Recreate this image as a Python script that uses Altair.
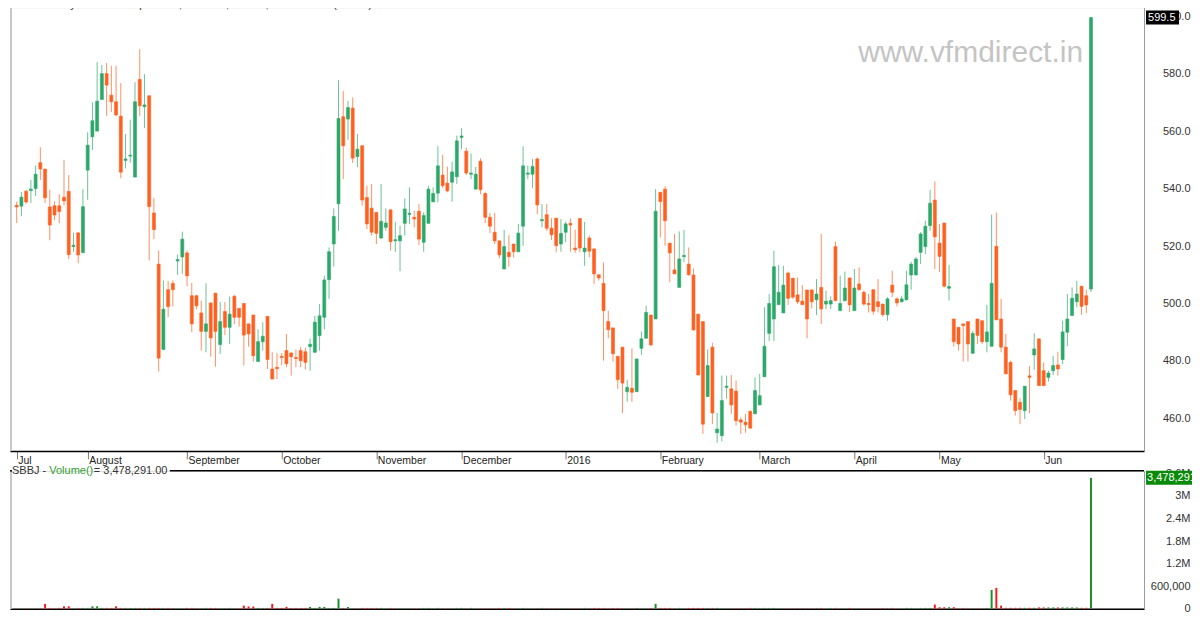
import altair as alt
import pandas as pd

# ---------------- data ----------------
opens = [534.2, 533.9, 539.1, 539.3, 540.0, 549.0, 546.8, 533.6, 534.0, 534.0,
         537.0, 539.0, 519.8, 524.6, 517.7, 546.4, 558.0, 560.0, 571.0, 580.0,
         572.5, 570.2, 565.2, 549.8, 551.3, 544.0, 578.0, 568.5, 572.3, 531.5,
         513.7, 484.0, 504.8, 507.0, 514.8, 516.2, 517.6, 502.7, 502.7, 496.7,
         490.3, 500.2, 503.6, 485.7, 497.2, 491.7, 502.5, 498.3, 500.0, 492.9,
         496.0, 479.8, 486.7, 495.5, 477.2, 477.8, 481.6, 483.6, 482.8, 481.2,
         483.6, 483.2, 485.0, 483.0, 488.8, 495.2, 508.3, 520.7, 534.7, 565.0,
         564.2, 568.0, 551.1, 554.9, 536.9, 533.2, 531.7, 522.8, 526.5, 532.6,
         521.8, 521.8, 527.9, 531.0, 530.0, 532.1, 521.3, 527.9, 535.4, 538.4,
         544.7, 541.9, 542.2, 544.1, 557.8, 553.0, 545.0, 539.8, 549.5, 538.3,
         530.0, 524.8, 521.8, 512.0, 517.8, 520.7, 518.0, 526.9, 545.0, 545.0,
         550.3, 528.8, 530.9, 526.2, 529.7, 520.7, 524.8, 527.9, 519.3, 529.6,
         518.0, 522.8, 519.0, 510.0, 507.0, 493.7, 491.5, 481.6, 484.8, 469.3,
         470.5, 469.3, 484.4, 487.9, 496.0, 494.6, 538.7, 539.8, 521.0, 511.7,
         505.6, 516.3, 513.7, 509.9, 496.3, 493.7, 467.6, 484.8, 455.0, 454.0,
         470.8, 470.3, 469.5, 459.5, 458.7, 462.5, 461.6, 464.7, 474.5, 489.6,
         494.6, 499.6, 496.7, 510.6, 508.8, 503.0, 500.8, 504.7, 504.7, 501.3,
         505.6, 499.8, 499.8, 519.8, 497.5, 501.0, 508.9, 497.5, 506.8, 503.9,
         500.0, 504.8, 500.6, 499.8, 496.1, 506.4, 501.6, 500.6, 501.3, 509.9,
         509.9, 517.8, 519.8, 527.1, 536.0, 521.0, 528.0, 505.3, 494.6, 491.7,
         492.9, 493.7, 482.7, 494.6, 494.0, 486.7, 485.1, 519.9, 494.6, 484.8,
         479.5, 469.7, 465.6, 462.7, 474.8, 482.1, 487.7, 476.6, 474.3, 476.6,
         478.6, 480.5, 490.0, 495.8, 500.6, 506.0, 502.7, 505.0]
highs = [535.5, 538.8, 539.5, 543.0, 548.0, 554.4, 546.8, 539.6, 535.5, 538.0,
         550.0, 544.7, 524.6, 524.6, 539.8, 559.6, 570.0, 584.0, 583.0, 583.7,
         582.7, 582.7, 576.7, 559.0, 564.0, 577.0, 588.5, 579.8, 572.3, 536.7,
         518.4, 508.0, 507.9, 508.0, 517.0, 525.0, 518.4, 507.1, 503.0, 501.0,
         507.0, 500.2, 503.6, 500.5, 500.5, 502.4, 503.0, 498.3, 500.0, 492.9,
         496.0, 491.0, 493.5, 495.5, 483.0, 482.8, 482.8, 489.4, 482.8, 484.0,
         484.9, 484.6, 487.8, 495.7, 499.8, 509.7, 519.5, 533.1, 577.7, 574.0,
         570.5, 571.7, 559.0, 554.9, 541.0, 541.6, 531.7, 541.6, 533.1, 532.6,
         528.5, 527.0, 536.6, 540.4, 532.3, 534.6, 531.7, 541.0, 540.4, 554.7,
         551.7, 547.7, 549.3, 558.4, 561.0, 554.3, 552.2, 547.6, 550.5, 538.7,
         531.5, 531.5, 521.8, 525.6, 523.8, 520.7, 527.7, 554.7, 548.0, 550.3,
         550.9, 534.6, 534.6, 529.7, 529.7, 529.4, 528.4, 529.6, 525.7, 529.6,
         528.4, 523.6, 519.0, 510.0, 514.3, 497.5, 491.5, 481.6, 484.8, 473.4,
         484.4, 480.7, 490.3, 499.2, 496.0, 539.8, 538.7, 540.8, 521.0, 524.2,
         525.1, 525.6, 519.5, 512.2, 496.3, 493.7, 484.0, 486.3, 461.9, 474.9,
         474.9, 475.1, 473.2, 460.4, 461.6, 462.5, 474.3, 475.5, 498.7, 503.3,
         518.4, 513.4, 513.1, 511.1, 508.8, 509.1, 506.4, 504.7, 505.0, 508.5,
         524.2, 504.5, 502.5, 521.5, 509.7, 511.1, 508.9, 512.0, 512.6, 504.5,
         503.3, 504.8, 508.5, 499.8, 502.2, 511.4, 502.2, 502.7, 511.4, 514.5,
         516.1, 524.8, 528.8, 539.6, 542.5, 527.7, 528.0, 513.4, 494.6, 491.7,
         492.9, 493.7, 490.5, 494.6, 494.0, 499.5, 530.9, 531.7, 501.6, 489.4,
         480.1, 469.7, 467.0, 471.2, 478.3, 489.6, 487.7, 479.5, 476.6, 481.8,
         483.2, 494.0, 503.3, 505.6, 507.9, 506.0, 504.8, 599.5]
lows = [528.0, 530.4, 534.7, 535.0, 537.4, 543.0, 535.0, 522.0, 529.0, 528.0,
        534.0, 515.5, 518.0, 514.0, 517.7, 536.1, 553.4, 560.0, 571.0, 565.3,
        566.6, 565.2, 543.6, 547.0, 549.0, 544.0, 565.3, 561.0, 515.0, 522.4,
        476.3, 484.0, 495.3, 499.0, 510.0, 510.3, 506.0, 490.0, 498.0, 483.6,
        483.0, 481.5, 478.0, 482.4, 489.0, 485.9, 492.8, 492.0, 478.4, 485.0,
        479.8, 479.8, 483.6, 477.2, 473.7, 473.7, 478.4, 477.8, 474.9, 477.8,
        477.8, 477.0, 476.6, 483.0, 483.6, 491.0, 501.6, 512.9, 525.3, 543.3,
        557.0, 548.9, 547.4, 534.0, 525.9, 523.6, 520.7, 522.4, 525.3, 518.4,
        518.0, 511.2, 523.6, 527.7, 526.5, 520.3, 518.0, 527.9, 535.2, 535.2,
        540.1, 538.7, 535.4, 541.6, 553.7, 544.7, 543.3, 539.8, 538.1, 528.0,
        524.5, 520.7, 515.7, 512.0, 512.8, 516.0, 518.0, 520.1, 543.3, 540.1,
        531.1, 526.5, 525.3, 522.1, 517.8, 518.0, 521.3, 518.0, 517.6, 517.8,
        513.1, 516.1, 506.8, 508.0, 480.1, 487.9, 479.8, 470.3, 461.9, 465.8,
        465.8, 469.3, 482.1, 487.9, 485.1, 494.6, 523.0, 520.1, 507.4, 510.3,
        505.6, 514.5, 509.7, 490.5, 475.1, 454.6, 467.6, 458.0, 451.5, 452.0,
        466.8, 461.6, 457.5, 454.6, 455.0, 456.6, 461.6, 464.7, 474.5, 486.9,
        486.9, 499.6, 496.7, 499.5, 501.6, 499.8, 499.5, 487.9, 498.3, 496.0,
        492.9, 498.0, 498.0, 500.8, 497.5, 500.6, 497.0, 497.5, 504.5, 499.2,
        496.9, 496.1, 496.9, 495.4, 494.0, 502.2, 499.0, 500.4, 501.0, 504.8,
        509.9, 513.7, 517.2, 525.3, 512.0, 510.9, 505.6, 501.0, 485.0, 483.6,
        479.8, 479.8, 482.4, 485.9, 485.9, 483.0, 485.1, 494.3, 483.0, 475.5,
        466.2, 461.0, 458.0, 459.8, 461.8, 476.9, 471.4, 471.4, 472.8, 475.1,
        474.9, 478.9, 485.1, 495.8, 498.7, 496.1, 496.7, 504.0]
closes = [533.6, 537.0, 535.3, 539.8, 545.0, 546.8, 536.8, 527.3, 530.8, 532.0,
          535.7, 517.0, 520.3, 516.9, 533.7, 555.1, 563.6, 570.4, 580.0, 576.0,
          570.2, 565.6, 545.7, 550.3, 551.6, 570.2, 568.8, 569.1, 533.7, 525.7,
          481.0, 498.0, 498.9, 504.8, 515.3, 522.4, 509.6, 492.9, 499.2, 490.3,
          492.9, 488.0, 490.3, 493.7, 491.7, 496.3, 495.2, 495.2, 489.0, 489.4,
          481.8, 486.7, 488.6, 480.5, 473.7, 477.3, 481.2, 479.0, 481.4, 480.8,
          480.1, 479.5, 485.8, 493.5, 495.7, 508.2, 518.0, 530.3, 564.4, 554.9,
          568.2, 550.6, 553.7, 536.0, 527.7, 524.8, 524.4, 528.6, 528.0, 521.5,
          522.2, 523.6, 532.9, 531.4, 529.4, 522.4, 530.6, 539.8, 538.3, 547.9,
          541.0, 539.2, 545.8, 556.6, 558.3, 545.4, 545.4, 545.0, 539.6, 530.0,
          526.9, 521.8, 516.9, 519.8, 516.3, 518.0, 524.5, 547.9, 545.4, 547.7,
          534.3, 529.2, 526.2, 523.9, 520.1, 524.4, 527.7, 527.3, 518.7, 519.3,
          519.3, 518.2, 510.3, 508.9, 497.5, 490.9, 482.5, 473.5, 472.3, 470.8,
          469.1, 480.7, 487.7, 496.9, 485.6, 532.1, 535.5, 528.8, 517.6, 510.3,
          515.5, 516.7, 510.0, 490.8, 475.1, 458.0, 478.4, 461.9, 456.3, 466.2,
          471.2, 464.7, 459.2, 458.7, 457.8, 456.6, 469.7, 467.9, 485.1, 500.0,
          512.8, 503.9, 506.4, 501.8, 502.2, 500.6, 499.6, 494.6, 500.6, 503.3,
          498.1, 500.8, 501.0, 501.0, 500.0, 505.4, 499.5, 505.4, 504.8, 499.8,
          499.6, 497.3, 498.9, 496.1, 501.6, 503.9, 500.2, 501.6, 506.5, 513.7,
          515.5, 524.2, 526.9, 534.9, 523.2, 516.4, 506.0, 505.9, 486.7, 485.9,
          492.3, 485.9, 489.6, 488.9, 486.7, 490.1, 507.0, 494.3, 484.8, 475.5,
          468.2, 462.7, 463.1, 471.2, 474.3, 484.2, 471.4, 471.4, 475.8, 478.4,
          477.2, 490.1, 494.6, 501.8, 503.3, 499.0, 499.5, 599.5]
volumes = [8000, 8000, 8000, 8000, 8000, 8000, 130000, 22000, 8000, 22000,
           65000, 65000, 8000, 22000, 22000, 22000, 65000, 65000, 22000, 22000,
           22000, 65000, 22000, 22000, 22000, 22000, 22000, 22000, 22000, 22000,
           22000, 22000, 22000, 8000, 8000, 8000, 22000, 22000, 8000, 8000,
           22000, 22000, 22000, 8000, 8000, 22000, 8000, 8000, 83000, 60000,
           60000, 22000, 22000, 22000, 130000, 22000, 22000, 50000, 22000, 22000,
           22000, 22000, 50000, 22000, 50000, 50000, 22000, 22000, 268000, 22000,
           45000, 8000, 8000, 22000, 22000, 22000, 22000, 22000, 8000, 22000,
           8000, 8000, 8000, 8000, 8000, 8000, 22000, 22000, 8000, 22000,
           8000, 8000, 8000, 22000, 22000, 8000, 22000, 8000, 8000, 8000,
           8000, 8000, 22000, 22000, 22000, 8000, 8000, 22000, 8000, 8000,
           8000, 22000, 8000, 8000, 8000, 8000, 8000, 8000, 8000, 8000,
           22000, 8000, 22000, 22000, 22000, 8000, 22000, 22000, 8000, 8000,
           8000, 22000, 8000, 8000, 22000, 130000, 22000, 22000, 22000, 8000,
           22000, 8000, 22000, 22000, 22000, 22000, 22000, 22000, 22000, 8000,
           8000, 8000, 8000, 8000, 8000, 22000, 22000, 8000, 22000, 22000,
           22000, 8000, 8000, 8000, 8000, 8000, 8000, 8000, 8000, 8000,
           22000, 8000, 22000, 22000, 8000, 8000, 22000, 8000, 8000, 8000,
           8000, 8000, 8000, 22000, 8000, 22000, 8000, 8000, 22000, 22000,
           8000, 22000, 22000, 22000, 111000, 40000, 40000, 40000, 40000, 8000,
           22000, 8000, 8000, 8000, 8000, 22000, 500000, 555000, 83000, 25000,
           25000, 25000, 25000, 25000, 25000, 25000, 35000, 35000, 35000, 35000,
           35000, 35000, 35000, 35000, 35000, 25000, 25000, 3478291]

month_ticks = [1, 16, 37, 57, 77, 95, 117, 137, 158, 178, 196, 218]
month_labels = ["Jul", "August", "September", "October", "November", "December",
                "2016", "February", "March", "April", "May", "Jun"]
price_ticks = [460, 480, 500, 520, 540, 560, 580, 600]
volume_ticks = [0, 600000, 1200000, 1800000, 2400000, 3000000, 3600000]

header_text = "SBBJ - Daily 6/13/2016 Open 505, Hi 599.5, Lo 504, Close 599.5 (20.0%)"
watermark = "www.vfmdirect.in"

# ---------------- styling ----------------
W, H1, H2 = 1135, 444, 138
FONT = "Liberation Sans"
GREEN = "#2ca86a"
ORANGE = "#ff6020"
VGREEN = "#1f8f2a"
VRED = "#f31e1e"

df = pd.DataFrame({"i": list(range(1, len(opens) + 1)), "open": opens, "high": highs,
                   "low": lows, "close": closes, "volume": volumes})
one = pd.DataFrame({"k": [0]})
last = df.tail(1)

xs = alt.Scale(domain=[0.644, 238.15], nice=False, zero=False)
ys = alt.Scale(domain=[448.7, 603.1], nice=False, zero=False)
vs = alt.Scale(domain=[0, 3664000], nice=False)

up = "datum.close >= datum.open"
labels_js = "[" + ",".join("'" + m + "'" for m in month_labels) + "]"
ticks_js = "[" + ",".join(str(t) for t in month_ticks) + "]"

x_axis = alt.Axis(values=month_ticks, labelExpr=f"{labels_js}[indexof({ticks_js}, datum.value)]",
                  title=None, grid=False, domainColor="#000", domainWidth=1.5,
                  tickColor="#777", tickSize=8, labelAlign="left", labelBaseline="top",
                  labelPadding=-3, labelOffset=1, labelFontSize=10.5, labelColor="#222",
                  labelOverlap=False, labelBound=False, labelFlush=False, labelFont=FONT)
y_axis = alt.Axis(orient="right", values=price_ticks, format=".1f", title=None, grid=False,
                  ticks=False, tickSize=0, domainColor="#9a9a9a", labelAlign="right",
                  labelPadding=46, labelFontSize=11, labelColor="#333", labelFont=FONT,
                  labelOverlap=False)

left_line = alt.Chart(one).mark_rule(color="#c8c8c8", strokeWidth=2).encode(
    x=alt.value(1), y=alt.value(0), y2=alt.value(H1))
wicks = alt.Chart(df).mark_rule(strokeWidth=1, opacity=0.7).encode(
    x=alt.X("i:Q", scale=xs, axis=x_axis),
    y=alt.Y("low:Q", scale=ys, axis=y_axis),
    y2="high:Q",
    color=alt.condition(up, alt.value(GREEN), alt.value(ORANGE)))
bodies = alt.Chart(df).mark_bar(size=3, strokeWidth=1, strokeOpacity=0.6).encode(
    x=alt.X("i:Q", scale=xs, axis=x_axis),
    y=alt.Y("open:Q", scale=ys, axis=y_axis),
    y2="close:Q",
    color=alt.condition(up, alt.value(GREEN), alt.value(ORANGE)),
    stroke=alt.condition(up, alt.value(GREEN), alt.value(ORANGE)))
# header line of the source chart: only its lower edge shows at the very top
header = alt.Chart(one).mark_text(align="left", baseline="alphabetic", fontSize=11,
                                  color="#333", font=FONT).encode(
    x=alt.value(4), y=alt.value(1), text=alt.value(header_text))
mark_wm = alt.Chart(one).mark_text(align="left", baseline="alphabetic", fontSize=30,
                                   color="#c4c4c4", font=FONT).encode(
    x=alt.value(849), y=alt.value(55), text=alt.value(watermark))
pbox = alt.Chart(last).mark_rect(color="#000", yOffset=-7, y2Offset=7).encode(
    x=alt.value(W + 2), x2=alt.value(W + 35), y=alt.Y("close:Q", scale=ys, axis=y_axis),
    y2="close:Q")
ptext = alt.Chart(last).mark_text(color="white", align="left", baseline="middle",
                                  fontSize=11, font=FONT).encode(
    x=alt.value(W + 4), y=alt.Y("close:Q", scale=ys, axis=y_axis),
    text=alt.Text("close:Q", format=".1f"))

price = alt.layer(left_line, wicks, bodies, header, mark_wm, pbox, ptext).properties(
    width=W, height=H1)

# ---------------- volume panel ----------------
v_xaxis = alt.Axis(labels=False, ticks=False, title=None, grid=False,
                   domainColor="#000", domainWidth=1.5)
v_yaxis = alt.Axis(orient="right", values=volume_ticks, title=None, grid=False, ticks=False,
                   tickSize=0, domainColor="#9a9a9a", labelAlign="right", labelPadding=46,
                   labelFontSize=11, labelColor="#333", labelFont=FONT, labelOverlap=False,
                   labelExpr="datum.value == 0 ? '0' : (datum.value < 1000000 ? format(datum.value, ',') : format(datum.value / 1000000, '~g') + 'M')")

v_left = alt.Chart(one).mark_rule(color="#c8c8c8", strokeWidth=2).encode(
    x=alt.value(1), y=alt.value(0), y2=alt.value(H2))
v_top = alt.Chart(one).mark_rule(color="#000", strokeWidth=1.5).encode(
    x=alt.value(160), x2=alt.value(W), y=alt.value(0))
v_top2 = alt.Chart(one).mark_rule(color="#000", strokeWidth=1.5).encode(
    x=alt.value(0), x2=alt.value(2), y=alt.value(0))
vbars = alt.Chart(df).mark_bar(size=2).encode(
    x=alt.X("i:Q", scale=xs, axis=v_xaxis),
    y=alt.Y("volume:Q", scale=vs, axis=v_yaxis),
    color=alt.condition(up, alt.value(VGREEN), alt.value(VRED)))
t1 = alt.Chart(one).mark_text(align="left", baseline="middle", fontSize=11, color="#333",
                              font=FONT).encode(x=alt.value(2), y=alt.value(0),
                                                text=alt.value("SBBJ - "))
t2 = alt.Chart(one).mark_text(align="left", baseline="middle", fontSize=11, color="#2e9e2e",
                              font=FONT).encode(x=alt.value(39.3), y=alt.value(0),
                                                text=alt.value("Volume()"))
t3 = alt.Chart(one).mark_text(align="left", baseline="middle", fontSize=11, color="#333",
                              font=FONT).encode(x=alt.value(83.9), y=alt.value(0),
                                                text=alt.value(" = 3,478,291.00"))
vbox = alt.Chart(last).mark_rect(color="#0a8a0a", yOffset=-7, y2Offset=7).encode(
    x=alt.value(W + 2), x2=alt.value(W + 55), y=alt.Y("volume:Q", scale=vs, axis=v_yaxis),
    y2="volume:Q")
vtext = alt.Chart(last).mark_text(color="white", align="left", baseline="middle",
                                  fontSize=11, font=FONT).encode(
    x=alt.value(W + 3), y=alt.Y("volume:Q", scale=vs, axis=v_yaxis),
    text=alt.Text("volume:Q", format=",d"))

volume = alt.layer(v_left, v_top, v_top2, vbars, t1, t2, t3, vbox, vtext).properties(
    width=W, height=H2)

chart = alt.vconcat(price, volume, spacing=20, bounds="flush").properties(
    padding={"top": -10, "left": 0, "right": -8, "bottom": -2}
).configure_view(stroke=None).configure_axis(labelOverlap=False).configure(font=FONT)

chart.save("out.html", embed_options={"renderer": "svg", "actions": False})
